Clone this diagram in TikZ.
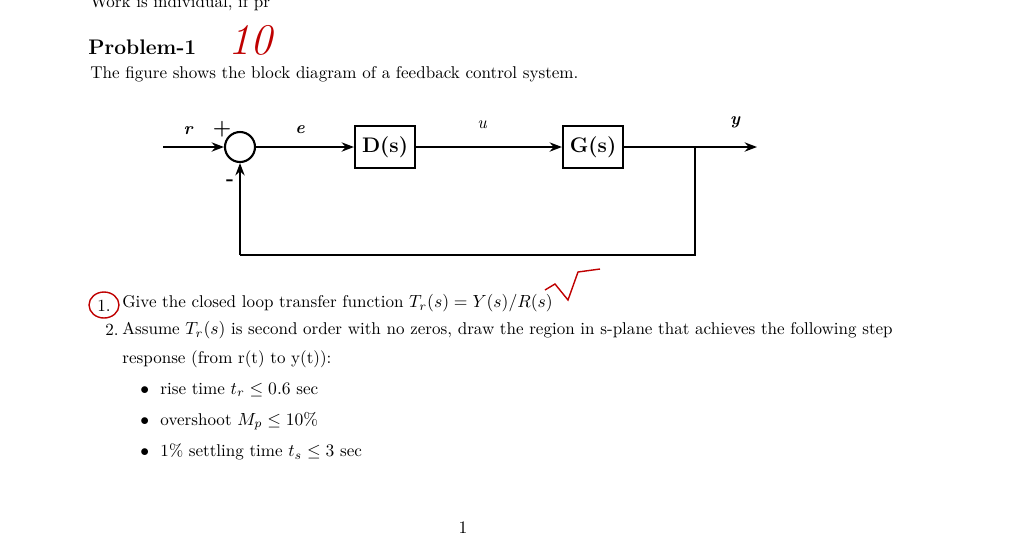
\documentclass[tikz,border=0pt]{standalone}
\usetikzlibrary{arrows.meta}
\begin{document}
\begin{tikzpicture}[x=0.02cm,y=-0.02cm,
  txt/.style={anchor=west,inner sep=0pt,font=\fontsize{9.7}{12}\selectfont},
  blk/.style={draw,line width=1.2pt,minimum width=1.2cm,minimum height=0.85cm,font=\bfseries\large},
  wire/.style={line width=1.2pt},
  arr/.style={wire,-{Stealth[length=7pt]}},
  red1/.style={draw=red!75!black,line width=0.8pt}]
\useasboundingbox (0,0) rectangle (1024,556);
\begin{scope}
\clip (0,0) rectangle (1024,556);
\node[txt] (hdr) at (90,3) {Work is individual, if pr};
\end{scope}
\node[txt,font=\bfseries\large] (prob) at (88,47) {Problem-1};
\node[anchor=center,text=red!75!black,font=\itshape\Huge] (score) at (250,40) {10};
\node[txt] (intro) at (90,74) {The figure shows the block diagram of a feedback control system.};
% block diagram
\coordinate (rin) at (163,147);
\node[draw,circle,line width=1.2pt,minimum size=0.6cm,inner sep=0pt] (sum) at (240,147) {};
\node[blk] (D) at (385,147) {D(s)};
\node[blk] (G) at (593,147) {G(s)};
\coordinate (yout) at (757,147);
\coordinate (tap) at (695,147);
\coordinate (fb1) at (695,255);
\coordinate (fb2) at (240,255);
\draw[arr] (rin) -- (sum.west);
\draw[arr] (sum.east) -- (D.west);
\draw[arr] (D.east) -- (G.west);
\draw[arr] (G.east) -- (yout);
\draw[wire] (tap) -- (fb1) -- (fb2);
\draw[arr] (fb2) -- (sum.south);
\node[font=\bfseries\itshape] (lr) at (188,131) {r};
\node[font=\bfseries\large] (lp) at (222,129) {+};
\node[font=\bfseries\large] (lm) at (230,183) {-};
\node[font=\bfseries\itshape] (le) at (300,130) {e};
\node[font=\itshape] (lu) at (482,125) {u};
\node[font=\bfseries\itshape] (ly) at (735,122) {y};
% questions
\node[txt] (q1n) at (97,306) {1.};
\draw[red1] (104,305) ellipse (15 and 13);
\node[txt] (q1) at (122,303) {Give the closed loop transfer function $T_r(s)=Y(s)/R(s)$};
\draw[red1] (545,290) -- (555,284) -- (568,300) -- (578,272) -- (600,269);
\node[txt] (q2n) at (105,330) {2.};
\node[txt] (q2) at (122,330) {Assume $T_r(s)$ is second order with no zeros, draw the region in s-plane that achieves the following step};
\node[txt] (q2b) at (122,359) {response (from r(t) to y(t)):};
\node[txt] (b1) at (140,390) {$\bullet$\ \ rise time $t_r\le 0.6$ sec};
\node[txt] (b2) at (140,421) {$\bullet$\ \ overshoot $M_p\le 10\%$};
\node[txt] (b3) at (140,452) {$\bullet$\ \ 1\% settling time $t_s\le 3$ sec};
\node[font=\normalsize] (pg) at (463,528) {1};
\end{tikzpicture}
\end{document}
